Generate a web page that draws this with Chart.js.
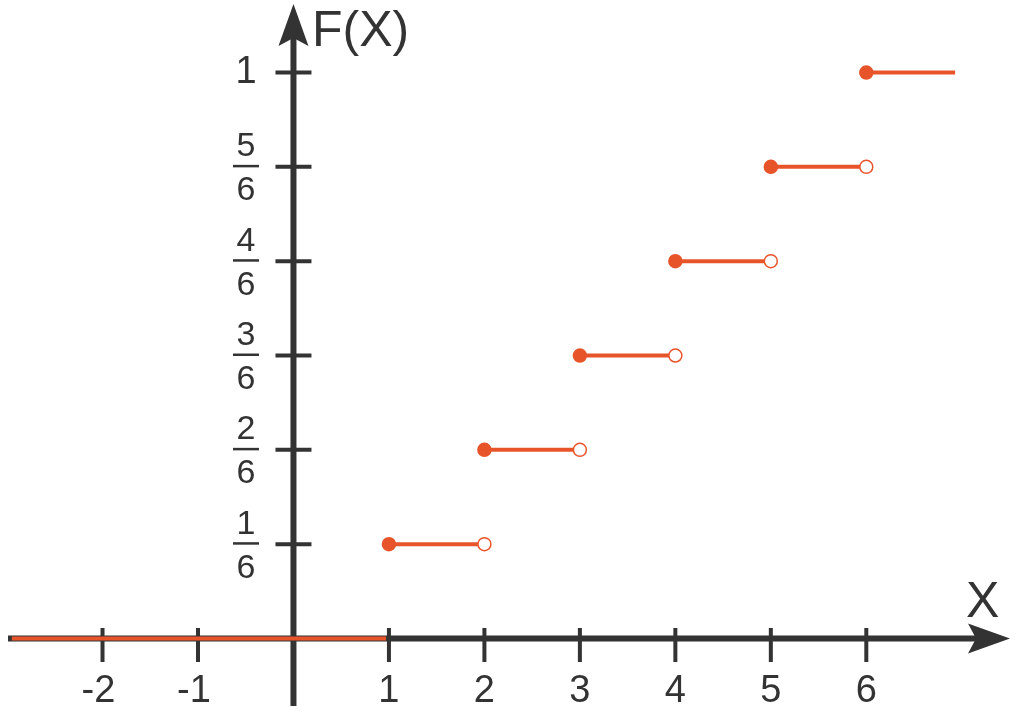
<!DOCTYPE html>
<html><head><meta charset="utf-8">
<script src="https://cdn.jsdelivr.net/npm/chart.js@4/dist/chart.umd.min.js"></script>
<style>html,body{margin:0;background:#fff;overflow:hidden}#w{width:1020px;height:712px}canvas{display:block}</style>
</head><body><div id="w"><canvas id="c"></canvas></div>
<script>
const xTicks = [-2,-1,1,2,3,4,5,6];
const yNumerators = [1,2,3,4,5];
const yDenominator = 6;
const stepStarts = [1,2,3,4,5,6];
const stepValues = [1/6,2/6,3/6,4/6,5/6,1];
const stepEnds = [2,3,4,5,6,6.93];
const zeroStart = -2.95, zeroEnd = 0.97;
const orange = '#E8542A', dark = '#333333';

const datasets = [{data:[{x:zeroStart,y:0},{x:zeroEnd,y:0}],pointRadius:0}];
stepStarts.forEach((s,i)=>{
  const last = i===stepStarts.length-1;
  datasets.push({data:[{x:s,y:stepValues[i]},{x:stepEnds[i],y:stepValues[i]}],
    pointRadius:[6.5,last?0:6.5],pointBackgroundColor:[orange,'#fff'],
    pointBorderColor:orange,pointBorderWidth:1.5});
});
datasets.forEach(d=>{d.borderColor=orange;d.borderWidth=4;d.showLine=true;});

const axes = {id:'axes',beforeDatasetsDraw(ch){
  const c=ch.ctx,x=ch.scales.x,y=ch.scales.y;
  const x0=x.getPixelForValue(0),y0=y.getPixelForValue(0);
  c.save();c.strokeStyle=dark;c.fillStyle=dark;c.lineWidth=6;
  c.beginPath();c.moveTo(8,y0);c.lineTo(985,y0);c.moveTo(x0,706);c.lineTo(x0,30);c.stroke();
  c.beginPath();c.moveTo(1010,y0);c.lineTo(968,y0-15);c.lineTo(976,y0);c.lineTo(968,y0+15);c.closePath();c.fill();
  c.beginPath();c.moveTo(x0,4);c.lineTo(x0-15,46);c.lineTo(x0,38);c.lineTo(x0+15,46);c.closePath();c.fill();
  c.lineWidth=4;c.beginPath();
  xTicks.forEach(t=>{const p=x.getPixelForValue(t);c.moveTo(p,628);c.lineTo(p,662);});
  [...yNumerators.map(n=>n/yDenominator),1].forEach(v=>{const p=y.getPixelForValue(v);c.moveTo(x0-18,p);c.lineTo(x0+18,p);});
  c.stroke();
  c.font='38px "Liberation Sans"';c.textAlign='center';c.textBaseline='middle';
  xTicks.forEach(t=>{c.fillText(String(t),x.getPixelForValue(t)+(t<0?-4:0),692);});
  c.fillText('1',246,y.getPixelForValue(1));
  c.font='34px "Liberation Sans"';
  yNumerators.forEach(n=>{const p=y.getPixelForValue(n/yDenominator);
    c.fillText(String(n),246,p-20);c.fillText(String(yDenominator),246,p+24);
    c.fillRect(233,p-2,26,2.5);});
  c.font='50px "Liberation Sans"';c.textAlign='left';
  c.fillText('F(X)',312,32);c.fillText('X',966,603);
  c.restore();}};

new Chart(document.getElementById('c'),{type:'scatter',data:{datasets},
  options:{responsive:true,maintainAspectRatio:false,animation:false,
    layout:{padding:0},
    plugins:{legend:{display:false},tooltip:{enabled:false}},
    scales:{x:{type:'linear',display:false,min:-2.99,max:7.526},
            y:{type:'linear',display:false,min:-0.1157,max:1.114}}},
  plugins:[axes]});
</script></body></html>
